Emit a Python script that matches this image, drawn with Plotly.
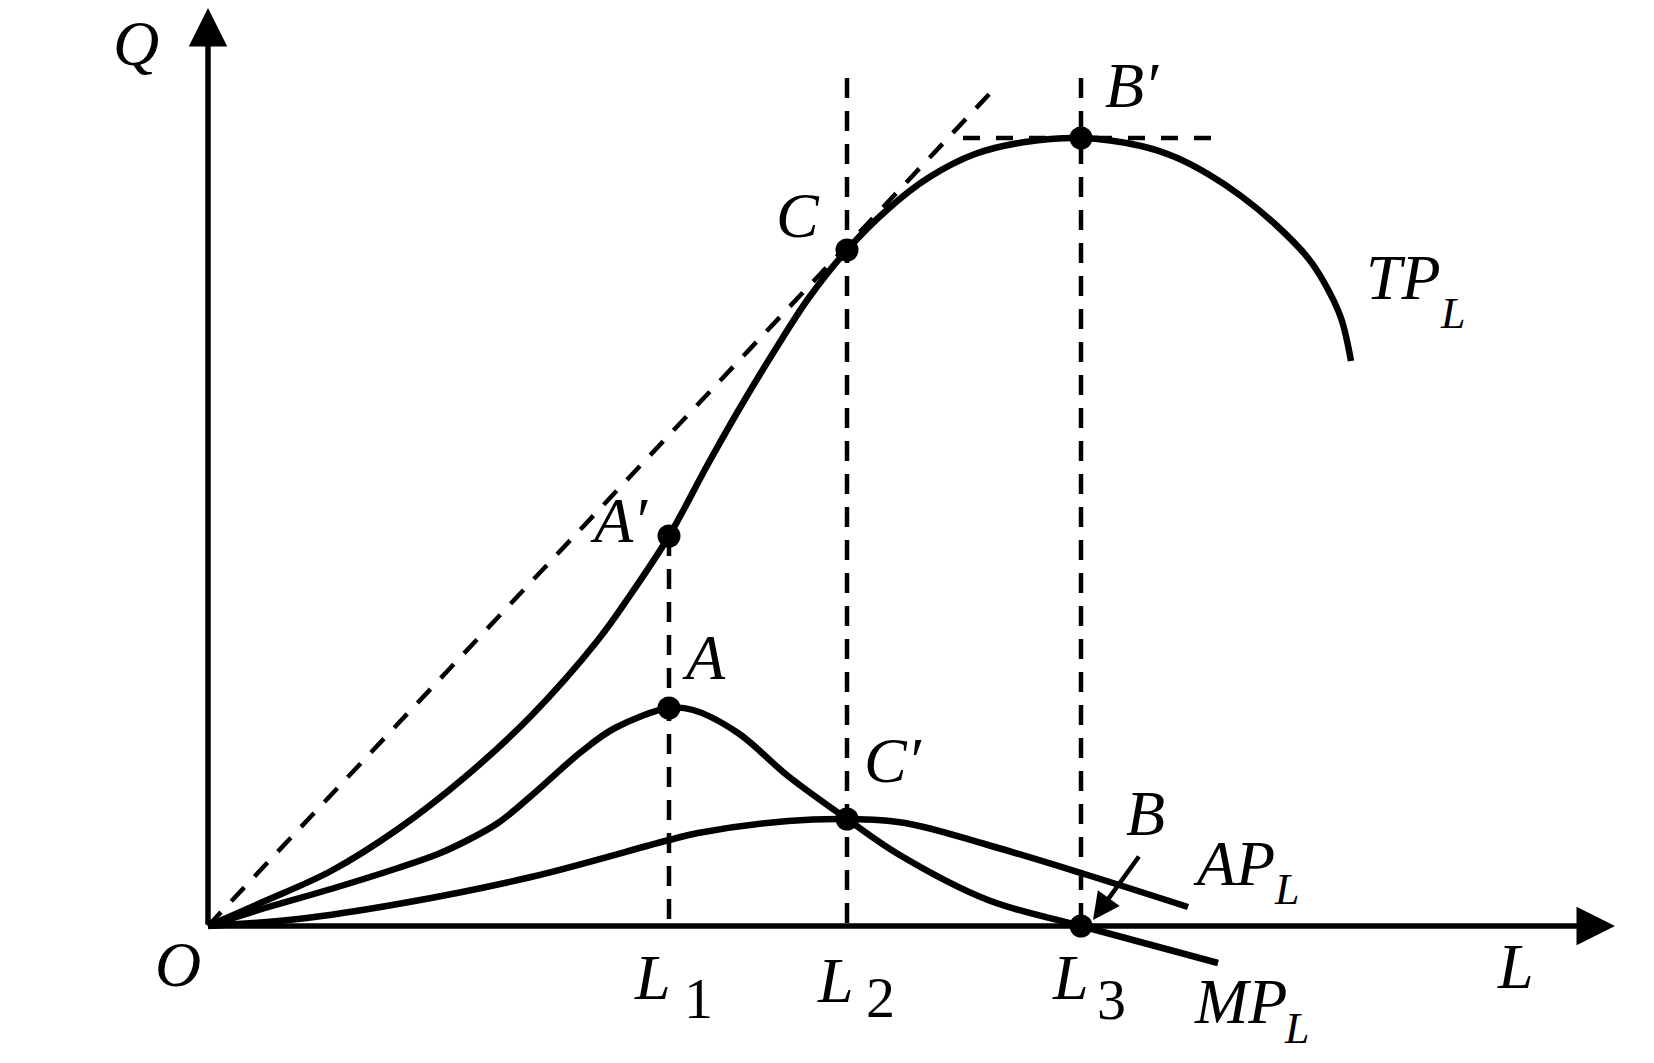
import plotly.graph_objects as go

# ---- data (L on x, Q on y; arbitrary units) ----
L1, L2, L3 = 4.61, 6.39, 8.73

tp_x = [0, 0.57, 1.23, 1.90, 2.57, 3.23, 3.90, 4.23, 4.61, 5.00, 5.33, 5.67, 6.00, 6.39,
        6.80, 7.20, 7.67, 8.17, 8.73, 9.33, 9.67, 10.00, 10.33, 10.67, 11.00, 11.17, 11.33, 11.43]
tp_y = [0, 0.25, 0.55, 0.97, 1.49, 2.10, 2.86, 3.32, 3.90, 4.62, 5.20, 5.76, 6.27, 6.76,
        7.17, 7.48, 7.72, 7.84, 7.88, 7.80, 7.69, 7.52, 7.30, 7.02, 6.68, 6.42, 6.08, 5.65]

mp_x = [0, 0.57, 1.23, 1.90, 2.30, 2.60, 2.90, 3.23, 3.73, 4.07, 4.61, 4.85, 5.30, 5.80, 6.39,
        6.90, 7.80, 8.73, 10.10]
mp_y = [0, 0.18, 0.37, 0.58, 0.72, 0.86, 1.03, 1.30, 1.74, 1.98, 2.18, 2.16, 1.93, 1.50, 1.07,
        0.72, 0.26, 0.0, -0.37]

ap_x = [0, 0.90, 1.90, 3.23, 4.61, 4.90, 5.80, 6.39, 6.97, 7.80, 8.73, 9.80]
ap_y = [0, 0.07, 0.22, 0.49, 0.86, 0.93, 1.05, 1.07, 1.03, 0.81, 0.53, 0.19]

tp_at = {"A′": 3.90, "C": 6.76, "B′": 7.88}
mp_at = {"A": 2.18, "C′": 1.07, "B": 0.0}

tangent_end = (7.87, 8.38)
hline_x = [7.55, 10.05]
vtop = 8.48

# label texts and positions
labels = [  # text, x, y, size, italic
    ("Q", -0.72, 8.83, 64, True),
    ("O", -0.30, -0.38, 64, True),
    ("L", 13.07, -0.40, 64, True),
    ("L", 4.44, -0.51, 64, True), ("1", 4.90, -0.72, 58, False),
    ("L", 6.27, -0.54, 64, True), ("2", 6.72, -0.71, 58, False),
    ("L", 8.62, -0.51, 64, True), ("3", 9.03, -0.73, 58, False),
    ("TP", 11.95, 6.49, 64, True), ("L", 12.44, 6.13, 44, True),
    ("AP", 10.26, 0.63, 64, True), ("L", 10.78, 0.37, 44, True),
    ("MP", 10.32, -0.75, 64, True), ("L", 10.88, -1.02, 44, True),
    ("B", 9.37, 1.13, 64, True),
    ("A′", 4.11, 4.06, 64, True),
    ("A", 4.96, 2.69, 64, True),
    ("C", 5.90, 7.11, 64, True),
    ("C′", 6.85, 1.66, 64, True),
    ("B′", 9.24, 8.41, 64, True),
]

FONT = "Liberation Serif, Times New Roman, serif"
BLACK = "#000000"

fig = go.Figure()

def dashed(xs, ys, dash):
    fig.add_trace(go.Scatter(x=xs, y=ys, mode="lines",
                             line=dict(color=BLACK, width=4.5, dash=dash),
                             hoverinfo="skip", showlegend=False))

# dashed guides
dashed([0, tangent_end[0]], [0, tangent_end[1]], "19px,15px")
dashed(hline_x, [tp_at["B′"]] * 2, "17px,16px")
dashed([L1, L1], [tp_at["A′"], 0], "20px,13px")
dashed([L2, L2], [vtop, 0], "20px,13px")
dashed([L3, L3], [vtop, 0], "20px,13px")

# curves
for xs, ys in [(tp_x, tp_y), (mp_x, mp_y), (ap_x, ap_y)]:
    fig.add_trace(go.Scatter(x=xs, y=ys, mode="lines",
                             line=dict(color=BLACK, width=6.5, shape="spline", smoothing=1.0),
                             hoverinfo="skip", showlegend=False))

# points
fig.add_trace(go.Scatter(
    x=[L1, L2, L3, L1, L2, L3],
    y=[tp_at["A′"], tp_at["C"], tp_at["B′"], mp_at["A"], mp_at["C′"], mp_at["B"]],
    mode="markers", marker=dict(color=BLACK, size=23),
    hoverinfo="skip", showlegend=False))

annotations = []
# axes with arrows
annotations.append(dict(x=14.07, y=0, ax=0, ay=0, xref="x", yref="y", axref="x", ayref="y",
                        showarrow=True, arrowhead=2, arrowwidth=5.5, arrowsize=1.4,
                        arrowcolor=BLACK, text="", standoff=0))
annotations.append(dict(x=0, y=9.18, ax=0, ay=0, xref="x", yref="y", axref="x", ayref="y",
                        showarrow=True, arrowhead=2, arrowwidth=5.5, arrowsize=1.4,
                        arrowcolor=BLACK, text="", standoff=0))
# arrow from B label to point B
annotations.append(dict(x=8.85, y=0.06, ax=9.32, ay=0.71, xref="x", yref="y", axref="x", ayref="y",
                        showarrow=True, arrowhead=2, arrowwidth=4.5, arrowsize=1.2,
                        arrowcolor=BLACK, text="", standoff=0))

for text, x, y, size, italic in labels:
    annotations.append(dict(x=x, y=y, xref="x", yref="y", showarrow=False,
                            text=(f"<i>{text}</i>" if italic else text),
                            font=dict(family=FONT, size=size, color=BLACK),
                            xanchor="center", yanchor="middle"))

fig.update_layout(
    width=1654, height=1063,
    margin=dict(l=0, r=0, t=0, b=0),
    paper_bgcolor="white", plot_bgcolor="white",
    xaxis=dict(range=[-2.00, 14.54], visible=False, fixedrange=True),
    yaxis=dict(range=[-1.45, 9.18], visible=False, fixedrange=True),
    annotations=annotations,
    showlegend=False,
)

fig.write_html("out.html")
